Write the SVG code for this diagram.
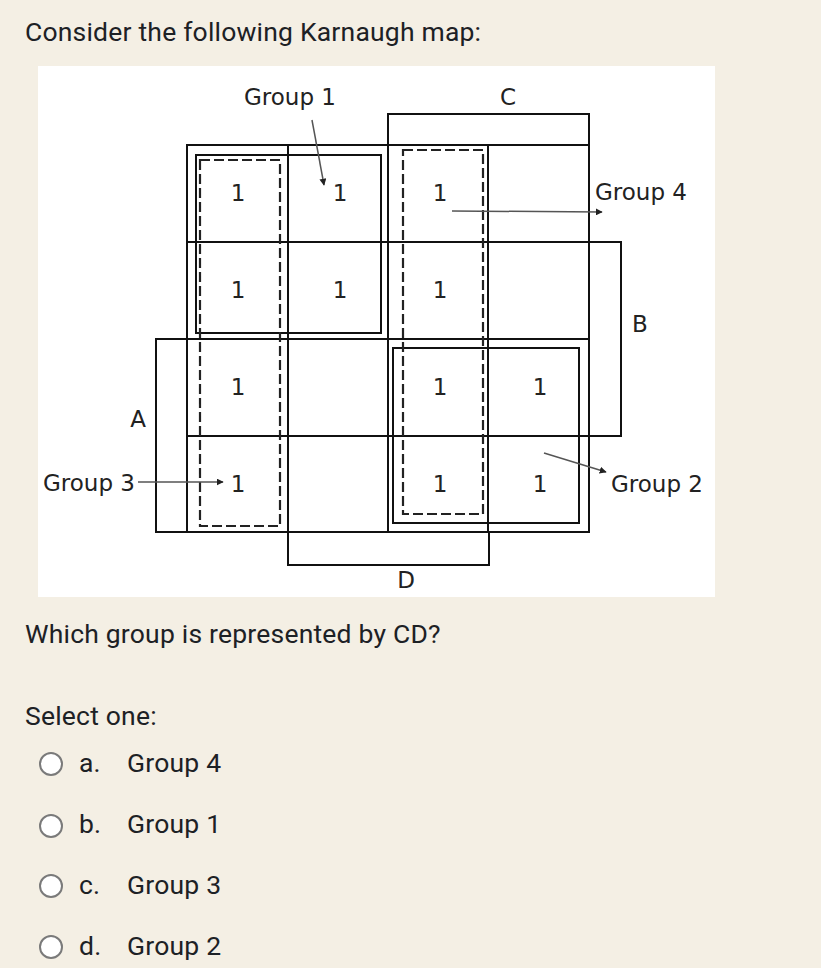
<svg xmlns="http://www.w3.org/2000/svg" width="821" height="968" viewBox="0 0 821 968">
  <defs>
    <style>
      .q { font-family: Roboto, "Liberation Sans", sans-serif; font-size: 26.5px; letter-spacing: 0.2px; fill: #1d2125; }
      .k { font-family: "DejaVu Sans", Verdana, sans-serif; font-size: 23px; fill: #222; }
      .km { text-anchor: middle; }
      .grid { stroke: #111; stroke-width: 2; fill: none; }
      .solid { stroke: #111; stroke-width: 2; fill: none; }
      .dash { stroke: #222; stroke-width: 2.2; fill: none; stroke-dasharray: 10 4; }
      .arrow { stroke: #555; stroke-width: 1.5; fill: none; marker-end: url(#ah); }
      .radio { fill: #fff; stroke: #7a7a7a; stroke-width: 2; }
    </style>
    <marker id="ah" viewBox="0 0 10 10" refX="9" refY="5" markerWidth="7" markerHeight="7" markerUnits="userSpaceOnUse" orient="auto">
      <path d="M0,0 L10,5 L0,10 z" fill="#222"/>
    </marker>
  </defs>

  <rect x="0" y="0" width="821" height="968" fill="#f4efe4"/>

  <text class="q" x="25" y="41">Consider the following Karnaugh map:</text>

  <rect x="38" y="66" width="677" height="531" fill="#ffffff"/>

  <g id="kmap-grid">
    <rect class="grid" x="187" y="145" width="402" height="387"/>
    <path class="grid" d="M288,145 V532 M388,145 V532 M488,145 V532 M187,242 H589 M187,339 H589 M187,436 H589"/>
    <path class="grid" d="M388,145 V114 H589 V145"/>
    <path class="grid" d="M589,242 H621 V436 H589"/>
    <path class="grid" d="M187,339 H156 V532 H187"/>
    <path class="grid" d="M288,532 V565 H489 V532"/>
  </g>

  <g id="labels">
    <text class="k km" x="508" y="105">C</text>
    <text class="k km" x="640" y="332">B</text>
    <text class="k km" x="138" y="427">A</text>
    <text class="k km" x="406" y="588">D</text>
  </g>

  <g id="cells">
    <text class="k km" x="238" y="201">1</text>
    <text class="k km" x="340" y="201">1</text>
    <text class="k km" x="440" y="201">1</text>
    <text class="k km" x="238" y="298">1</text>
    <text class="k km" x="340" y="298">1</text>
    <text class="k km" x="440" y="298">1</text>
    <text class="k km" x="238" y="395">1</text>
    <text class="k km" x="440" y="395">1</text>
    <text class="k km" x="540" y="395">1</text>
    <text class="k km" x="238" y="492">1</text>
    <text class="k km" x="440" y="492">1</text>
    <text class="k km" x="540" y="492">1</text>
  </g>

  <g id="group1">
    <rect class="solid" x="196" y="155" width="185" height="178"/>
    <text class="k" x="244" y="105">Group 1</text>
  </g>
  <g id="group2">
    <rect class="solid" x="393" y="348" width="186" height="175"/>
    <text class="k" x="611" y="492">Group 2</text>
  </g>
  <g id="group3">
    <rect class="dash" x="200" y="160" width="80" height="366"/>
    <text class="k" x="43" y="491">Group 3</text>
  </g>
  <g id="group4">
    <rect class="dash" x="403" y="150" width="80" height="364"/>
    <text class="k" x="595" y="200">Group 4</text>
  </g>

  <g id="connectors">
    <line class="arrow" x1="312" y1="120" x2="324" y2="185"/>
    <line class="arrow" x1="452" y1="211" x2="602" y2="212"/>
    <line class="arrow" x1="138" y1="482" x2="223" y2="482"/>
    <line class="arrow" x1="544" y1="453" x2="606" y2="472"/>
  </g>

  <text class="q" x="25" y="643">Which group is represented by CD?</text>
  <text class="q" x="25" y="725">Select one:</text>

  <g id="option-a">
    <circle class="radio" cx="51" cy="764" r="11"/>
    <text class="q" x="79" y="772">a.</text>
    <text class="q" x="127" y="772">Group 4</text>
  </g>
  <g id="option-b">
    <circle class="radio" cx="51" cy="826" r="11"/>
    <text class="q" x="79" y="833">b.</text>
    <text class="q" x="127" y="833">Group 1</text>
  </g>
  <g id="option-c">
    <circle class="radio" cx="51" cy="886" r="11"/>
    <text class="q" x="79" y="894">c.</text>
    <text class="q" x="127" y="894">Group 3</text>
  </g>
  <g id="option-d">
    <circle class="radio" cx="51" cy="947" r="11"/>
    <text class="q" x="79" y="955">d.</text>
    <text class="q" x="127" y="955">Group 2</text>
  </g>
</svg>
